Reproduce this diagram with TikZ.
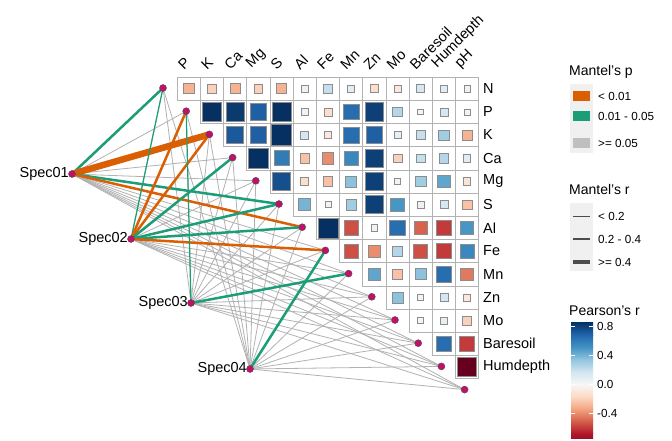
\documentclass[tikz,border=0pt]{standalone}
\usepackage{fontspec}
\setmainfont{Liberation Sans}
\begin{document}
\begin{tikzpicture}[x=1pt,y=-1pt,
  dot/.style={circle,fill=dotc,draw=black!70,line width=0.4pt,inner sep=0pt,minimum size=7pt},
  lbl/.style={font=\fontsize{14.5}{16}\selectfont,inner sep=1pt},
  leg/.style={font=\fontsize{11.7}{13}\selectfont,anchor=west,inner sep=0pt},
  legt/.style={font=\fontsize{14}{16}\selectfont,anchor=west,inner sep=0pt},
  gl/.style={draw=black!30,line width=0.8pt},
  orl/.style={draw=orc},
  grl/.style={draw=grc},
  thn/.style={line width=1.2pt},
  med/.style={line width=2.5pt},
  thk/.style={line width=6.5pt}]
\definecolor{dotc}{HTML}{C2106A}
\definecolor{orc}{HTML}{D95F02}
\definecolor{grc}{HTML}{1B9E77}
\definecolor{p0}{HTML}{F7F7F7}\definecolor{p1}{HTML}{D1E5F0}\definecolor{p2}{HTML}{92C5DE}
\definecolor{p3}{HTML}{4393C3}\definecolor{p4}{HTML}{2166AC}\definecolor{p5}{HTML}{053061}
\definecolor{n0}{HTML}{F7F7F7}\definecolor{n1}{HTML}{FDDBC7}\definecolor{n2}{HTML}{F4A582}
\definecolor{n3}{HTML}{D6604D}\definecolor{n4}{HTML}{B2182B}\definecolor{n5}{HTML}{67001F}
\useasboundingbox (0,0) rectangle (672,441);
\fill[white] (0,0) rectangle (672,441);
% cells
\foreach \r/\vals in {0/{-0.3,-0.2,-0.3,-0.2,-0.3,0.05,0.2,0.1,-0.15,-0.1,0.15,0.1,0.05},
 1/{0.85,0.82,0.7,0.85,0.05,-0.15,0.65,0.8,0.25,0.02,0.15,0.03},
 2/{0.72,0.7,0.95,0.15,-0.1,0.65,0.7,0.08,0.2,0.3,-0.3},
 3/{0.9,0.6,-0.25,-0.4,0.55,0.8,-0.2,0.2,0.25,0.1},
 4/{0.75,-0.15,-0.25,0.35,0.8,0.03,0.3,0.45,-0.12},
 5/{0.4,0.03,0.3,0.8,0.5,0.05,0.15,-0.25},
 6/{0.92,-0.55,0.04,0.65,-0.5,-0.6,0.5},
 7/{-0.55,-0.4,0.25,-0.55,-0.6,0.55},
 8/{0.45,-0.25,0.35,0.65,-0.45},
 9/{0.35,0.03,0.15,-0.1},
 10/{0.02,0.08,-0.2},
 11/{0.65,-0.6},
 12/{-0.85}}{
 \foreach \v [count=\c from \r] in \vals {
   \pgfmathsetmacro\cx{188.6+23.2*\c}
   \pgfmathsetmacro\cy{88.6+23.2*\r}
   \pgfmathsetmacro\av{abs(\v)}
   \pgfmathsetmacro\idx{min(4.999,\av/0.17)}
   \pgfmathtruncatemacro\k{floor(\idx)}
   \pgfmathtruncatemacro\kk{\k+1}
   \pgfmathsetmacro\t{100*(\idx-\k)}
   \pgfmathsetmacro\hs{0.5*23.2*(0.24+0.68*\av)}
   \ifdim \v pt<0pt \colorlet{cc}{n\kk!\t!n\k}\else\colorlet{cc}{p\kk!\t!p\k}\fi
   \draw[black!30,line width=0.5pt] (\cx-11.6,\cy-11.6) rectangle (\cx+11.6,\cy+11.6);
   \draw[fill=cc,draw=black!45,line width=0.5pt] (\cx-\hs,\cy-\hs) rectangle (\cx+\hs,\cy+\hs);
 }}
% labels
\foreach \n [count=\c from 0] in {P,K,Ca,Mg,S,Al,Fe,Mn,Zn,Mo,Baresoil,Humdepth,pH}
  \node[lbl,rotate=45,anchor=south west] (cl\c) at ({184+23.2*\c},72) {\n};
\foreach \n [count=\r from 0] in {N,P,K,Ca,Mg,S,Al,Fe,Mn,Zn,Mo,Baresoil,Humdepth}
  \node[lbl,anchor=west] (rl\r) at (482,{88.6+23.2*\r}) {\n};
% dots
\foreach \r in {0,...,13} \coordinate (d\r) at ({163+23.2*\r},{88+23.2*\r});
\coordinate (s1) at (72,174);\coordinate (s2) at (131,239);
\coordinate (s3) at (191,303);\coordinate (s4) at (250,369);
\foreach \s in {1,...,4}\foreach \r in {0,...,13} \draw[gl] (s\s) -- (d\r);
\draw[grl,med] (s1) -- (d0);
\draw[orl,thk] (s1) -- (d2);
\draw[grl,med] (s1) -- (d5);
\draw[orl,med] (s1) -- (d6);
\draw[grl,thn] (s2) -- (d0);
\draw[orl,med] (s2) -- (d1);
\draw[orl,med] (s2) -- (d2);
\draw[grl,med] (s2) -- (d3);
\draw[grl,med] (s2) -- (d5);
\draw[grl,med] (s2) -- (d6);
\draw[orl,med] (s2) -- (d7);
\draw[grl,thn] (s3) -- (d1);
\draw[grl,med] (s3) -- (d8);
\draw[grl,med] (s4) -- (d7);
\foreach \r in {0,...,13} \node[dot] (dn\r) at (d\r) {};
\foreach \s/\t in {1/Spec01,2/Spec02,3/Spec03,4/Spec04}{
  \node[dot] (sn\s) at (s\s) {};
  \node[lbl,anchor=east] (st\s) at ([xshift=-2pt]s\s) {\t};}
% legend Mantel p
\node[legt] (lp) at (569,72) {Mantel's p};
\fill[black!6] (570,84) rectangle (593,153);
\fill[orc] (573,91) rectangle (590,101);
\fill[grc] (573,111) rectangle (590,121);
\fill[black!25] (573,138) rectangle (590,148);
\node[leg] (lp1) at (598,96) {< 0.01};
\node[leg] (lp2) at (598,116) {0.01 - 0.05};
\node[leg] (lp3) at (598,143) {>= 0.05};
% legend Mantel r
\node[legt] (lr) at (569,189) {Mantel's r};
\fill[black!6] (570,203) rectangle (593,271);
\draw[black!70,line width=1pt] (573,216) -- (590,216);
\draw[black!70,line width=2.3pt] (573,239) -- (590,239);
\draw[black!70,line width=4.3pt] (573,262) -- (590,262);
\node[leg] (lr1) at (598,216) {< 0.2};
\node[leg] (lr2) at (598,239) {0.2 - 0.4};
\node[leg] (lr3) at (598,262) {>= 0.4};
% legend Pearson
\node[legt] (lpe) at (569,311) {Pearson's r};
\shade[top color=p5,bottom color=p4] (571,322) rectangle (593,335);
\shade[top color=p4,bottom color=p3] (571,334.8) rectangle (593,347.4);
\shade[top color=p3,bottom color=p2] (571,347.2) rectangle (593,359.7);
\shade[top color=p2,bottom color=p1] (571,359.5) rectangle (593,372);
\shade[top color=p1,bottom color=p0] (571,371.8) rectangle (593,384.2);
\shade[top color=n0,bottom color=n1] (571,384) rectangle (593,396.5);
\shade[top color=n1,bottom color=n2] (571,396.3) rectangle (593,408.8);
\shade[top color=n2,bottom color=n3] (571,408.6) rectangle (593,421.1);
\shade[top color=n3,bottom color=n4] (571,420.9) rectangle (593,433.4);
\shade[top color=n4,bottom color=n4!70!n5] (571,433.2) rectangle (593,438);
\foreach \y/\l in {326/0.8,355/0.4,384/0.0,413/-0.4}{
  \draw[white,line width=0.6pt] (571,\y) -- (575,\y) (589,\y) -- (593,\y);
  \node[leg] at (597,\y) {\l};}
\end{tikzpicture}
\end{document}
